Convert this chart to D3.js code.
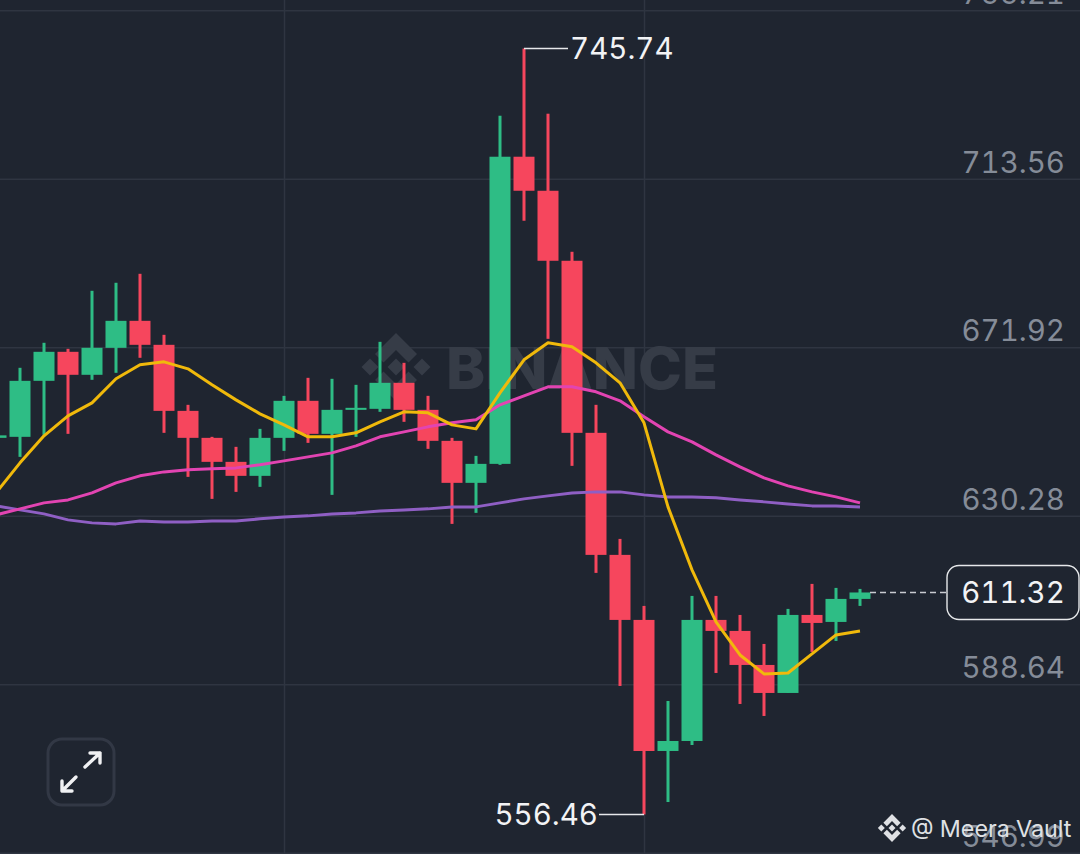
<!DOCTYPE html>
<html>
<head>
<meta charset="utf-8">
<script src="https://cdn.jsdelivr.net/npm/d3@7"></script>
<style>
  html, body { margin: 0; padding: 0; background: #1f2530; overflow: hidden; }
  svg { display: block; }
  text { font-family: Inter, Roboto, sans-serif; font-variant-numeric: tabular-nums; font-feature-settings: "tnum"; }
</style>
</head>
<body>
<div id="chart"></div>
<script>
// price data, one entry per candle
var opens = [649.53,649.78,663.62,670.79,665.11,671.78,678.45,672.52,656.20,649.53,643.60,640.14,649.53,658.68,650.52,656.45,656.70,663.13,656.45,648.79,638.41,643.10,719.00,710.59,693.29,650.77,620.61,604.54,572.15,574.62,604.54,601.82,593.41,586.49,605.77,604.04,609.73];
var highs = [650.50,666.84,673.02,671.53,685.87,687.85,690.07,674.99,657.69,649.78,647.31,651.75,659.91,664.36,664.12,662.63,673.26,668.07,659.91,649.53,645.08,729.13,745.74,729.63,695.51,657.69,624.56,608.00,584.51,610.47,610.47,605.77,598.60,607.26,613.44,612.45,612.20];
var lows = [649.28,644.83,650.27,650.52,663.87,665.60,669.31,650.77,639.89,634.45,636.18,637.42,646.32,648.29,635.44,649.78,655.96,653.49,646.81,628.27,630.99,642.86,703.18,674.00,642.61,616.16,588.22,556.46,559.54,573.63,591.43,583.77,580.80,586.49,596.63,599.34,608.00];
var closes = [650.15,663.62,670.79,665.11,671.78,678.45,672.52,656.20,649.53,643.60,640.14,649.53,658.68,650.52,656.45,656.95,663.13,656.45,648.79,638.41,643.10,719.00,710.59,693.29,650.77,620.61,604.54,572.15,574.62,604.54,601.82,593.41,586.49,605.77,603.79,609.73,611.32];

// moving averages
var ma7 = [635.93,643.35,650.02,654.97,658.18,664.12,667.58,668.32,666.59,662.63,658.92,655.46,652.74,649.78,649.78,650.77,653.49,655.96,655.71,652.74,651.75,660.65,668.81,673.02,672.03,668.07,663.13,653.24,632.47,616.90,604.04,595.88,591.19,591.43,596.13,600.83,601.82];
var ma25 = [630.49,631.98,633.46,634.20,635.93,638.41,640.14,641.12,641.62,641.87,642.11,642.86,643.84,644.83,645.82,647.55,649.78,651.01,652.25,653.24,653.98,657.69,659.91,662.14,662.14,660.90,658.68,654.72,651.01,648.54,645.33,642.36,639.64,637.66,636.18,634.94,633.46];
var ma99 = [632.72,631.73,630.74,629.26,628.52,628.27,629.01,628.76,628.76,629.01,629.01,629.51,630.00,630.25,630.74,630.99,631.48,631.73,631.98,632.47,632.47,633.46,634.45,635.19,635.93,636.18,636.18,635.44,634.94,634.94,634.70,634.20,633.71,633.21,632.72,632.72,632.47];

var priceTicks = [755.21, 713.56, 671.92, 630.28, 588.64, 546.99];
var timeTicks = [12, 27];
var lastPrice = 611.32;
var highMark = 745.74;
var lowMark = 556.46;

var width = 1080;
var height = 854;
var bg = "#1f2530";
var green = "#2ebd85";
var red = "#f6465d";
var labelSize = 29.5;

var svg = d3.select("#chart").append("svg")
    .attr("width", width)
    .attr("height", height);

var x = d3.scaleLinear().domain([0, opens.length - 1]).range([-4, 860]);
var y = d3.scaleLinear().domain([546.99, 755.21]).range([852.8, 10.2]);

// grid lines come from the axes
var gridY = svg.append("g")
    .attr("transform", "translate(" + width + ",0)")
    .call(d3.axisLeft(y).tickValues(priceTicks).tickSize(width).tickFormat(""));
gridY.select(".domain").remove();
gridY.selectAll("line").attr("stroke", "#2f3541").attr("stroke-width", 1.5);

var gridX = svg.append("g")
    .attr("transform", "translate(0," + height + ")")
    .call(d3.axisTop(x).tickValues(timeTicks).tickSize(height).tickFormat(""));
gridX.select(".domain").remove();
gridX.selectAll("line").attr("stroke", "#2f3541").attr("stroke-width", 1.5);

// the diamond logo, used by the watermark and the credit
function drawLogo(g) {
    g.append("path").attr("d", "M0 -34 L21 -13 L12.5 -4.5 L0 -17 L-12.5 -4.5 L-21 -13 Z");
    g.append("path").attr("d", "M0 34 L21 13 L12.5 4.5 L0 17 L-12.5 4.5 L-21 13 Z");
    g.append("path").attr("d", "M0 -8.5 L8.5 0 L0 8.5 L-8.5 0 Z");
    g.append("path").attr("d", "M-26 -8.5 L-17.5 0 L-26 8.5 L-34.5 0 Z");
    g.append("path").attr("d", "M26 -8.5 L34.5 0 L26 8.5 L17.5 0 Z");
}

// BINANCE watermark behind the candles
var mark = svg.append("g").attr("fill", "#363c47");
mark.append("g").attr("transform", "translate(396,367)").call(drawLogo);
mark.append("text")
    .attr("x", 446).attr("y", 389)
    .attr("font-size", 58).attr("font-weight", 800)
    .attr("textLength", 272).attr("lengthAdjust", "spacingAndGlyphs")
    .text("BINANCE");

// candles
var candles = svg.append("g").selectAll("g")
    .data(d3.range(opens.length))
    .join("g")
    .attr("fill", function (i) { return closes[i] >= opens[i] ? green : red; });

candles.append("rect")
    .attr("x", function (i) { return x(i) - 1.5; })
    .attr("width", 3)
    .attr("y", function (i) { return y(highs[i]); })
    .attr("height", function (i) { return y(lows[i]) - y(highs[i]); });

candles.append("rect")
    .attr("x", function (i) { return x(i) - 10.5; })
    .attr("width", 21)
    .attr("y", function (i) { return y(Math.max(opens[i], closes[i])); })
    .attr("height", function (i) { return Math.abs(y(opens[i]) - y(closes[i])); });

// moving average lines
var line = d3.line()
    .x(function (d, i) { return x(i); })
    .y(function (d) { return y(d); });

[[ma99, "#8f5fc4"], [ma25, "#e244b2"], [ma7, "#f0b90b"]].forEach(function (s) {
    svg.append("path")
        .datum(s[0])
        .attr("fill", "none")
        .attr("stroke", s[1])
        .attr("stroke-width", 3)
        .attr("stroke-linejoin", "round")
        .attr("d", line);
});

// price labels on the right, above their grid lines
var labels = svg.append("g")
    .attr("transform", "translate(" + width + ",0)")
    .call(d3.axisLeft(y).tickValues(priceTicks).tickSize(0).tickFormat(function (d) { return d.toFixed(2); }));
labels.select(".domain").remove();
labels.selectAll("text")
    .attr("x", -15)
    .attr("y", -17)
    .attr("dy", "0.36em")
    .attr("text-anchor", "end")
    .attr("font-size", labelSize)
    .attr("fill", "#858c98")
    .style("font-family", "Inter, Roboto, sans-serif");

// last price tag
svg.append("line")
    .attr("x1", x(opens.length - 1) + 10).attr("x2", 947)
    .attr("y1", y(lastPrice)).attr("y2", y(lastPrice))
    .attr("stroke", "#c9ccd1").attr("stroke-width", 1.3)
    .attr("stroke-dasharray", "6 4");
svg.append("rect")
    .attr("x", 947).attr("y", 565.5)
    .attr("width", 132).attr("height", 54).attr("rx", 12)
    .attr("fill", bg).attr("stroke", "#e6e8ea").attr("stroke-width", 1.4);
svg.append("text")
    .attr("x", 1013).attr("y", y(lastPrice)).attr("dy", "0.36em")
    .attr("text-anchor", "middle")
    .attr("font-size", labelSize).attr("fill", "#f2f3f5")
    .text(lastPrice.toFixed(2));

// high / low markers
var highIdx = highs.indexOf(highMark);
var lowIdx = lows.indexOf(lowMark);
svg.append("line")
    .attr("x1", x(highIdx)).attr("x2", 568)
    .attr("y1", y(highMark)).attr("y2", y(highMark))
    .attr("stroke", "#e6e8ea").attr("stroke-width", 1.5);
svg.append("text")
    .attr("x", 570).attr("y", y(highMark)).attr("dy", "0.36em")
    .attr("font-size", labelSize).attr("fill", "#f2f3f5")
    .text(highMark.toFixed(2));
svg.append("line")
    .attr("x1", 599).attr("x2", x(lowIdx))
    .attr("y1", y(lowMark)).attr("y2", y(lowMark))
    .attr("stroke", "#e6e8ea").attr("stroke-width", 1.5);
svg.append("text")
    .attr("x", 598).attr("y", y(lowMark)).attr("dy", "0.36em")
    .attr("text-anchor", "end")
    .attr("font-size", labelSize).attr("fill", "#f2f3f5")
    .text(lowMark.toFixed(2));

// fullscreen button
svg.append("rect")
    .attr("x", 48).attr("y", 739)
    .attr("width", 66).attr("height", 66).attr("rx", 14)
    .attr("fill", "none").attr("stroke", "#323845").attr("stroke-width", 3);
var arrows = svg.append("g")
    .attr("fill", "none").attr("stroke", "#f0f1f3")
    .attr("stroke-width", 3.4).attr("stroke-linecap", "round").attr("stroke-linejoin", "round");
arrows.append("path").attr("d", "M85 767 L100 753 M90 753 L100 753 L100 763");
arrows.append("path").attr("d", "M76 777 L62 791 M62 781 L62 791 L72 791");

// source credit, sits on top of the lowest price label
var credit = svg.append("g").attr("fill", "#dfe1e4");
credit.append("g").attr("transform", "translate(892,828) scale(0.41)").call(drawLogo);
credit.append("text")
    .attr("x", 911).attr("y", 837)
    .attr("font-size", 23.3)
    .text("@ Meera Vault");
</script>
</body>
</html>
